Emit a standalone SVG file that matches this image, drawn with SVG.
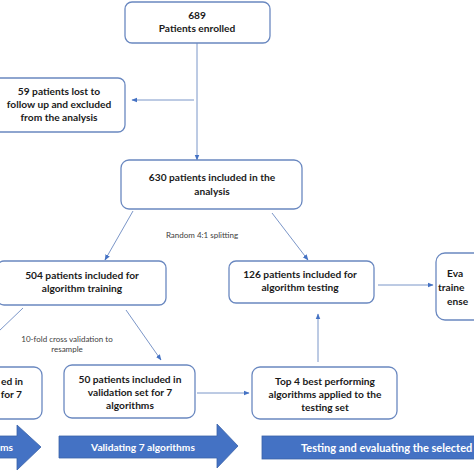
<svg xmlns="http://www.w3.org/2000/svg" width="474" height="474" viewBox="0 0 474 474">
<defs>
<style>
.box{fill:#fff;stroke:#6a88c0;stroke-width:1.3}
.t{font-family:Lato,"Liberation Sans",sans-serif;font-weight:bold;font-size:10.2px;fill:#1a1a1a;text-anchor:middle}
.s{font-family:Lato,"Liberation Sans",sans-serif;font-size:8px;fill:#404040;text-anchor:middle}
.c{stroke:#7b96c8;stroke-width:1;fill:none}
.big{fill:#4472c4;stroke:#3a62a8;stroke-width:0.8}
.w{font-family:Lato,"Liberation Sans",sans-serif;font-weight:bold;font-size:10.2px;fill:#fff}
</style>
<marker id="ah" viewBox="0 0 10 10" refX="9" refY="5" markerWidth="6" markerHeight="6" orient="auto">
<path d="M0,1 L10,5 L0,9 z" fill="#4472c4"/>
</marker>
</defs>
<rect width="474" height="474" fill="#fff"/>
<g id="connectors">
<line class="c" x1="197" y1="43" x2="197" y2="160" marker-end="url(#ah)"/>
<line class="c" x1="194" y1="100" x2="132" y2="100" marker-end="url(#ah)"/>
<line class="c" x1="133" y1="211" x2="105" y2="260" marker-end="url(#ah)"/>
<line class="c" x1="272" y1="213" x2="308" y2="260" marker-end="url(#ah)"/>
<line class="c" x1="378" y1="285" x2="433" y2="285" marker-end="url(#ah)"/>
<line class="c" x1="23" y1="308" x2="-2" y2="332"/>
<line class="c" x1="126" y1="310" x2="161" y2="360" marker-end="url(#ah)"/>
<line class="c" x1="197" y1="393" x2="249" y2="393" marker-end="url(#ah)"/>
<line class="c" x1="318" y1="362" x2="318" y2="314" marker-end="url(#ah)"/>
<text class="s" x="202" y="238">Random 4:1 splitting</text>
<text class="s" x="67" y="342">10-fold cross validation to</text>
<text class="s" x="67" y="352">resample</text>
</g>
<g id="n689">
<rect class="box" x="125" y="2" width="145" height="41" rx="7"/>
<text class="t" x="197" y="19">689</text>
<text class="t" x="197" y="32">Patients enrolled</text>
</g>
<g id="n59">
<rect class="box" x="-10" y="78" width="135" height="54" rx="7"/>
<text class="t" x="59" y="95">59 patients lost to</text>
<text class="t" x="59" y="108">follow up and excluded</text>
<text class="t" x="59" y="121">from the analysis</text>
</g>
<g id="n630">
<rect class="box" x="121" y="160" width="181" height="49" rx="8"/>
<text class="t" x="212" y="181">630 patients included in the</text>
<text class="t" x="212" y="195">analysis</text>
</g>
<g id="n504">
<rect class="box" x="-3" y="261" width="169" height="44" rx="7"/>
<text class="t" x="82" y="279">504 patients included for</text>
<text class="t" x="82" y="292">algorithm training</text>
</g>
<g id="n126">
<rect class="box" x="229" y="261" width="145" height="42" rx="7"/>
<text class="t" x="300" y="278">126 patients included for</text>
<text class="t" x="300" y="291">algorithm testing</text>
</g>
<g id="neval">
<rect class="box" x="436" y="253" width="60" height="67" rx="9"/>
<text class="t" x="447" y="277" style="text-anchor:start">Eva</text>
<text class="t" x="438" y="291" style="text-anchor:start">traine</text>
<text class="t" x="447" y="305" style="text-anchor:start">ense</text>
</g>
<g id="ntrain">
<rect class="box" x="-60" y="367" width="102" height="52" rx="8"/>
<text class="t" x="23" y="385" style="text-anchor:end">ed in</text>
<text class="t" x="22" y="398" style="text-anchor:end">for 7</text>
</g>
<g id="n50">
<rect class="box" x="64" y="365" width="131" height="53" rx="8"/>
<text class="t" x="130" y="383">50 patients included in</text>
<text class="t" x="130" y="396">validation set for 7</text>
<text class="t" x="130" y="409">algorithms</text>
</g>
<g id="ntop4">
<rect class="box" x="252" y="367" width="145" height="52" rx="8"/>
<text class="t" x="325" y="385">Top 4 best performing</text>
<text class="t" x="325" y="398">algorithms applied to the</text>
<text class="t" x="325" y="411">testing set</text>
</g>
<g id="phases">
<path class="big" d="M-60,436 L17,436 L17,425 L41,447 L17,470 L17,458 L-60,458 z"/>
<text class="w" x="13" y="451" style="text-anchor:end">ms</text>
<path class="big" d="M59,436 L217,436 L217,424 L238,446 L217,468 L217,458 L59,458 z"/>
<text class="w" x="143" y="451" style="text-anchor:middle">Validating 7 algorithms</text>
<rect class="big" x="262" y="436" width="240" height="23"/>
<text class="w" x="301" y="452" style="font-size:11px">Testing and evaluating the selected</text>
</g>
</svg>
